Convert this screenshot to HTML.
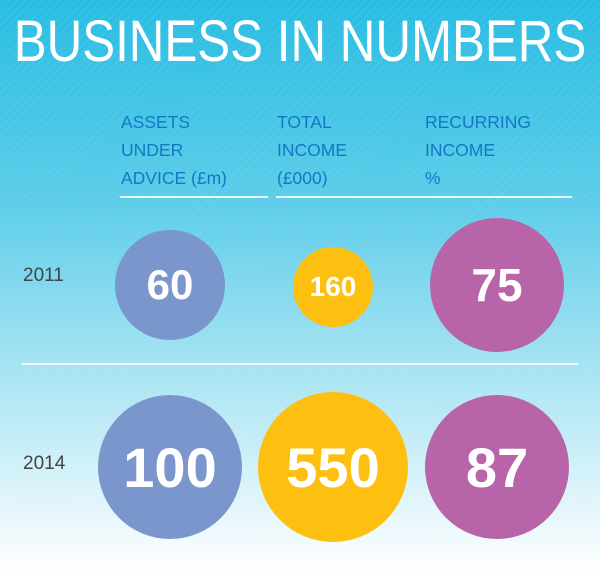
<!DOCTYPE html>
<html><head><style>
body{margin:0;width:600px;height:573px;overflow:hidden;font-family:"Liberation Sans",sans-serif;
background:linear-gradient(to bottom,#29bde3 0%,#5ccde9 35%,#a8e4f3 65%,#e6f7fc 90%,#ffffff 100%);position:relative}
.stripes{position:absolute;inset:0;background:repeating-linear-gradient(135deg,rgba(255,255,255,0.07) 0 1px,transparent 1px 6px)}
.t{position:absolute;left:300px;top:8px;white-space:nowrap;color:#fff;font-size:58px;font-weight:normal;transform:translateX(-50%) scaleX(0.85);transform-origin:center}
.h{position:absolute;top:108px;color:#1577c3;font-size:17.5px;line-height:28px}
.l{position:absolute;height:2px;background:#eaf8fd}
.c{position:absolute;border-radius:50%;color:#fff;font-weight:bold;display:flex;align-items:center;justify-content:center}
.y{position:absolute;color:#444;font-size:19px}
</style></head><body>
<div class="stripes"></div>
<div class="t">BUSINESS IN NUMBERS</div>
<div class="h" style="left:121px">ASSETS<br>UNDER<br>ADVICE (£m)</div>
<div class="h" style="left:277px">TOTAL<br>INCOME<br>(£000)</div>
<div class="h" style="left:425px">RECURRING<br>INCOME<br>%</div>
<div class="l" style="left:120px;width:148px;top:196px"></div>
<div class="l" style="left:276px;width:296px;top:196px"></div>
<div class="l" style="left:22px;width:556px;top:363px;background:#f2fbfe"></div>
<div class="y" style="left:23px;top:265px">2011</div>
<div class="y" style="left:23px;top:453px">2014</div>
<div class="c" style="left:115px;top:230px;width:110px;height:110px;background:#7b96cc;font-size:42px">60</div>
<div class="c" style="left:293px;top:247px;width:80px;height:80px;background:#fdc010;font-size:28px">160</div>
<div class="c" style="left:430px;top:218px;width:134px;height:134px;background:#b764a8;font-size:46px">75</div>
<div class="c" style="left:98px;top:395px;width:144px;height:144px;background:#7b96cc;font-size:56px">100</div>
<div class="c" style="left:258px;top:392px;width:150px;height:150px;background:#fdc010;font-size:56px">550</div>
<div class="c" style="left:425px;top:395px;width:144px;height:144px;background:#b764a8;font-size:56px">87</div>
</body></html>
